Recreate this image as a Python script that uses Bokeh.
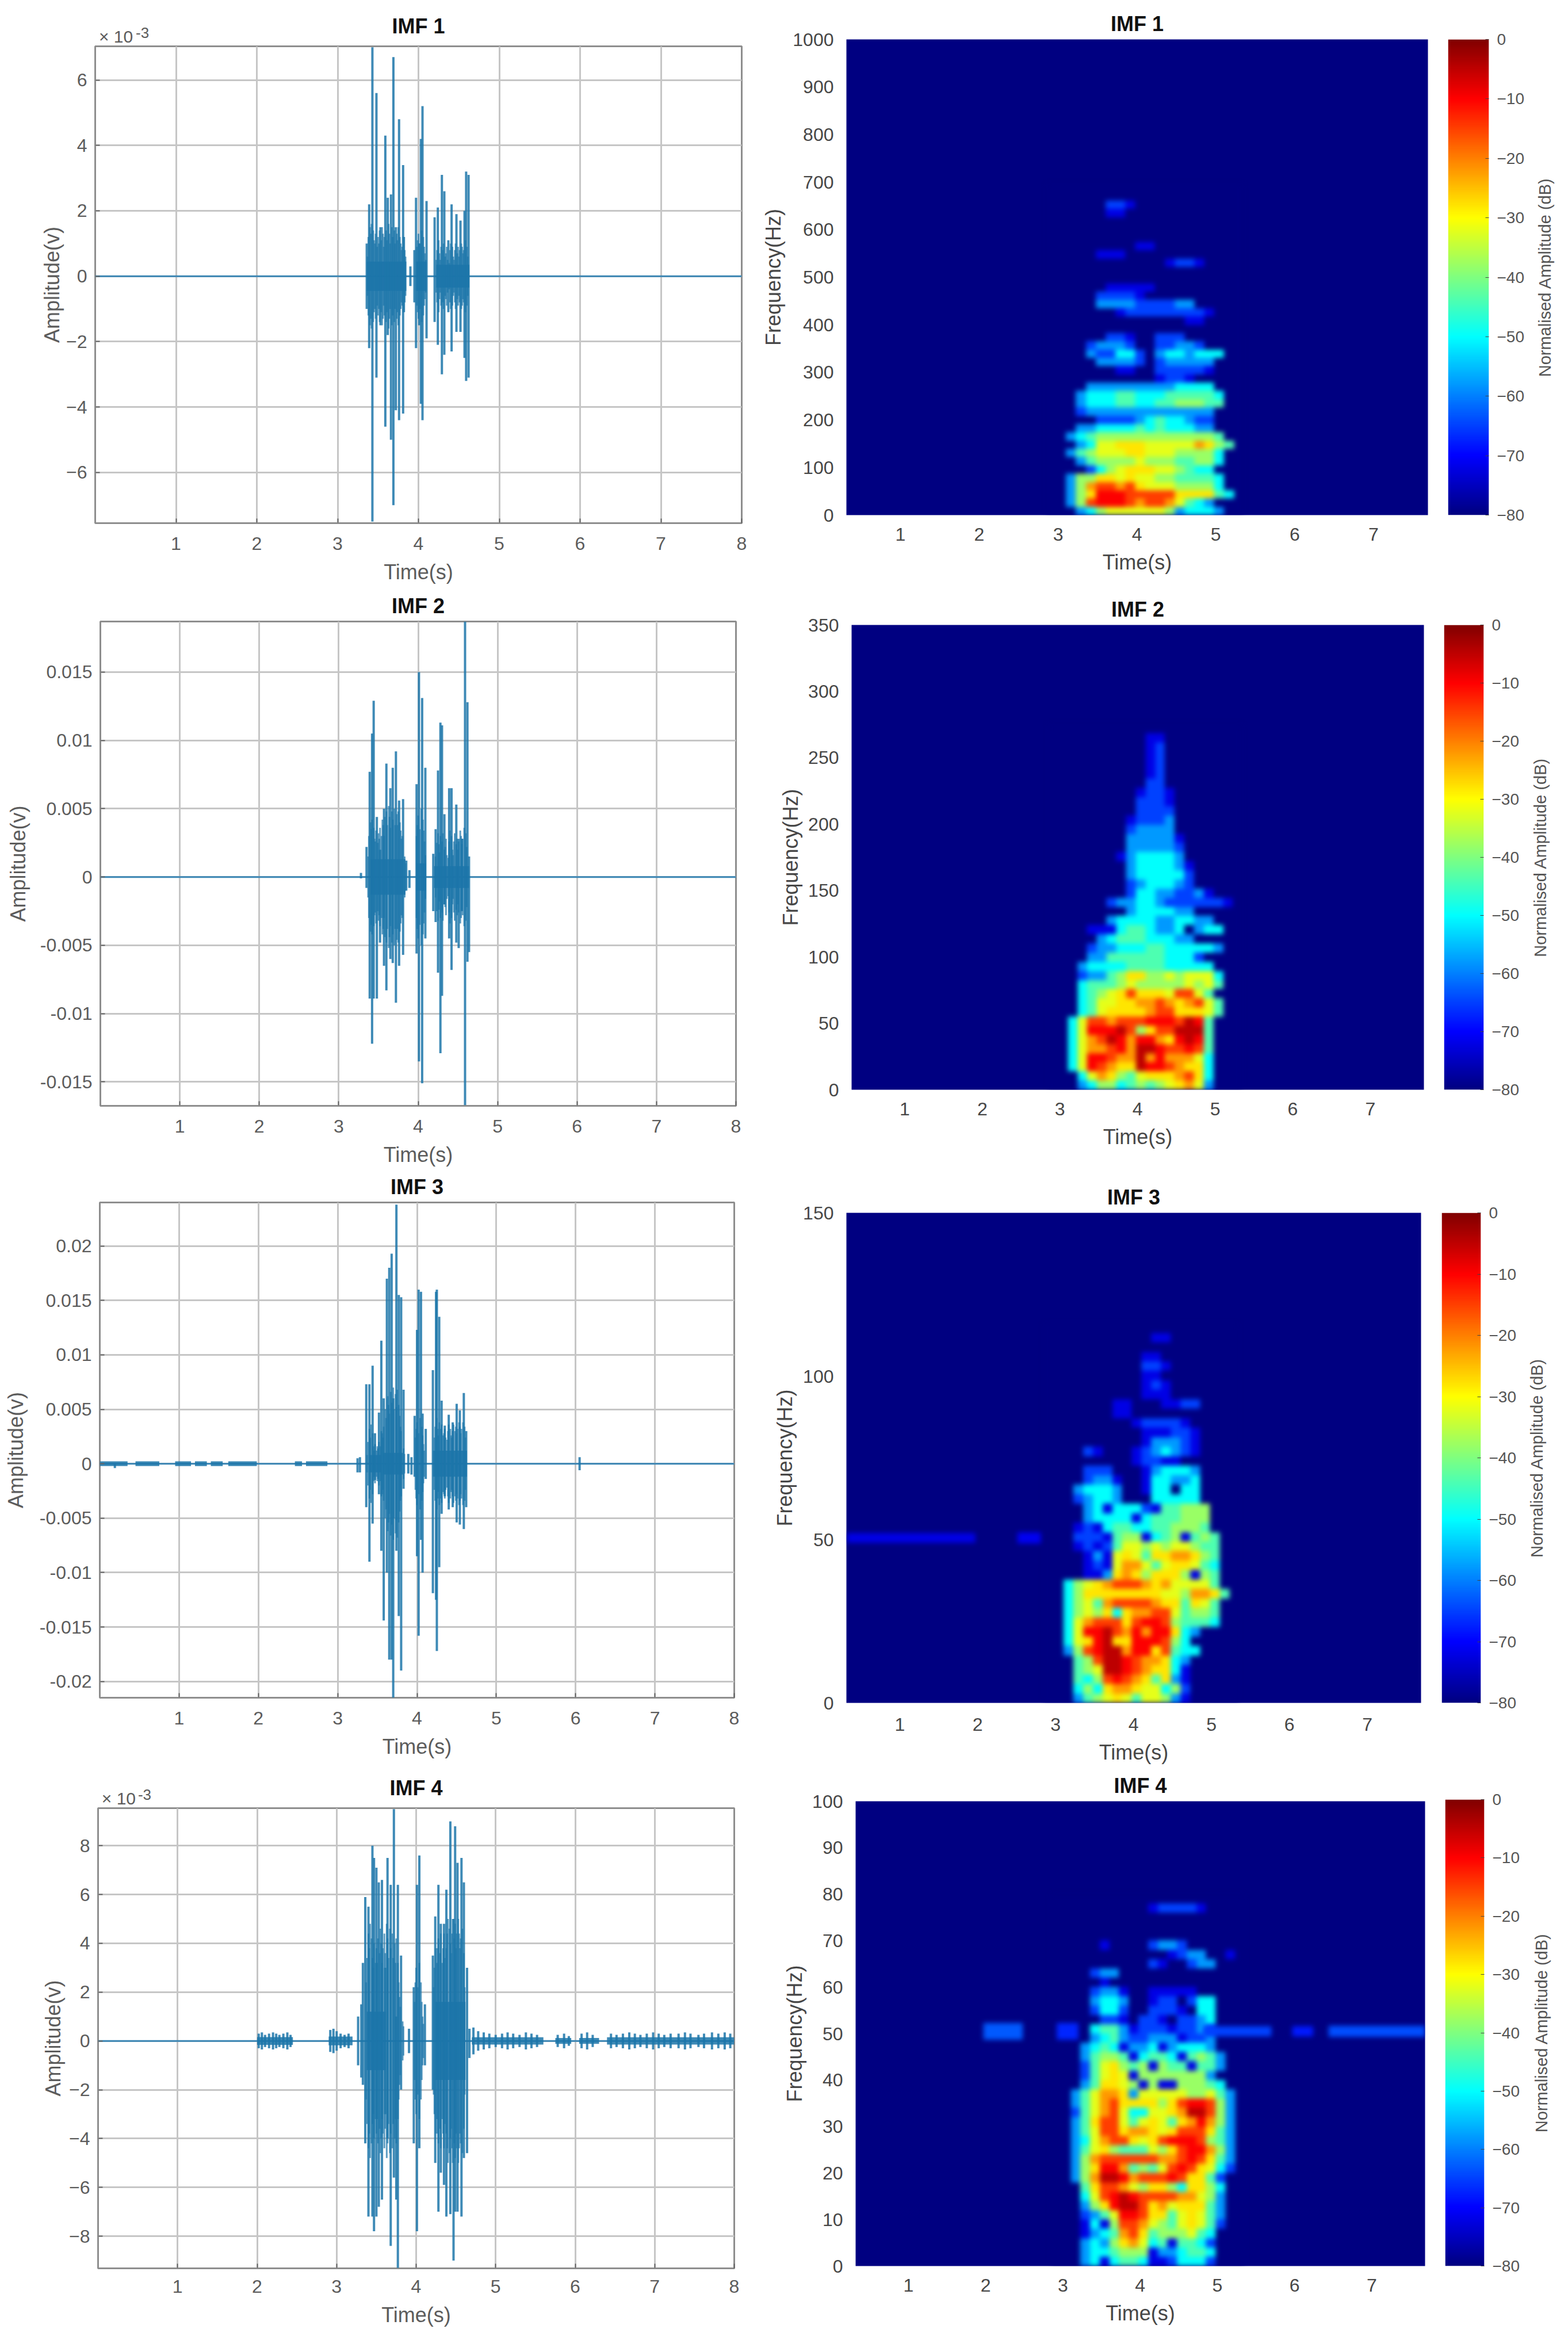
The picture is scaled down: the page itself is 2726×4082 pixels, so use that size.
import numpy as np
from bokeh.embed import file_html
from bokeh.layouts import column, row
from bokeh.models import FixedTicker, LinearAxis, LinearColorMapper, Range1d, Title
from bokeh.plotting import figure
from bokeh.resources import INLINE

# ---------- waveforms: spike time, upper and lower swing (in 1e-3 V) ----------
imf1_t = [3.36,3.39,3.43,3.48,3.53,3.59,3.62,3.66,3.69,3.72,3.76,3.81,3.82,3.90,3.95,3.97,4.01,4.03,4.05,4.10,4.20,4.24,4.29,4.32,4.37,4.41,4.47,4.52,4.57,4.59,4.62]
imf1_hi = [1.0,2.2,7.0,5.6,1.5,4.3,2.4,2.5,6.7,1.5,4.8,3.4,1.2,0.3,0.8,2.4,1.0,4.2,5.2,2.3,1.8,2.1,3.1,2.6,1.1,2.2,1.9,1.7,2.0,3.2,3.1]
imf1_lo = [-1.0,-2.2,-7.5,-3.1,-1.5,-4.6,-1.8,-5.0,-7.0,-4.1,-4.4,-4.2,-1.1,-0.3,-0.8,-2.2,-1.5,-3.9,-4.4,-1.9,-1.4,-2.1,-3.0,-2.4,-1.1,-2.3,-1.7,-1.7,-2.5,-3.2,-3.1]
imf1_band = [(3.36,3.85,0.45),(3.97,4.10,0.45),(4.22,4.63,0.35)]

imf2_t = [3.28,3.35,3.39,3.42,3.44,3.48,3.52,3.57,3.60,3.65,3.68,3.72,3.76,3.81,3.85,3.89,3.98,4.01,4.05,4.09,4.19,4.22,4.25,4.28,4.30,4.33,4.39,4.42,4.48,4.51,4.55,4.59,4.62,4.64]
imf2_hi = [0.3,2.2,7.7,10.5,12.9,4.4,2.0,5.0,8.3,6.5,8.0,9.2,5.6,5.7,1.2,0.5,6.8,15.0,13.1,8.0,1.7,3.5,7.8,11.3,11.1,4.6,6.5,6.5,5.3,2.8,2.8,18.7,12.8,1.5]
imf2_lo = [-0.1,-0.8,-8.9,-12.2,-8.9,-8.9,-4.8,-6.5,-8.3,-6.0,-6.3,-9.2,-6.5,-5.7,-1.0,-0.8,-5.6,-13.5,-15.1,-4.5,-2.5,-3.3,-7.0,-12.9,-8.7,-2.0,-4.5,-6.8,-4.8,-5.2,-2.5,-16.7,-6.2,-5.5]
imf2_band = [(3.40,3.84,1.3),(3.98,4.10,1.0),(4.20,4.64,0.8)]

imf3_t = [0.19,3.25,3.28,3.36,3.40,3.44,3.47,3.52,3.55,3.58,3.62,3.65,3.68,3.70,3.74,3.77,3.80,3.83,3.89,3.93,3.97,4.00,4.02,4.05,4.07,4.11,4.20,4.24,4.25,4.28,4.31,4.35,4.40,4.45,4.50,4.54,4.59,4.62,6.05]
imf3_hi = [0.0,0.5,0.6,7.3,7.3,9.0,2.8,4.7,11.3,6.0,17.0,18.0,19.3,6.0,23.8,15.5,15.3,6.8,0.9,0.6,4.4,12.3,16.0,15.8,4.6,3.2,8.6,15.8,16.0,13.5,5.8,3.5,4.5,3.8,5.5,4.9,6.5,3.0,0.6]
imf3_lo = [-0.4,-0.8,-0.8,-4.0,-9.0,-5.5,-1.5,-2.8,-8.0,-14.4,-10.0,-18.0,-18.0,-21.5,-8.0,-14.0,-19.0,-2.3,-0.9,-1.0,-1.2,-8.5,-15.8,-7.0,-10.0,-1.4,-11.9,-12.5,-17.2,-9.5,-4.6,-3.0,-4.2,-4.0,-5.4,-5.6,-6.0,-4.0,-0.6]
imf3_band = [(0.0,0.35,0.22),(0.45,0.75,0.22),(0.95,1.15,0.22),(1.20,1.35,0.22),(1.40,1.55,0.22),(1.62,1.98,0.22),(2.46,2.55,0.22),(2.60,2.87,0.22),(3.40,3.55,0.8),(3.57,3.82,1.0),(4.20,4.63,1.2)]

imf4_t = [3.27,3.31,3.33,3.36,3.40,3.45,3.47,3.50,3.53,3.57,3.61,3.64,3.68,3.72,3.75,3.77,3.81,3.91,3.97,4.01,4.04,4.11,4.21,4.24,4.28,4.31,4.35,4.38,4.43,4.47,4.49,4.52,4.57,4.60,4.64,4.67]
imf4_hi = [1.0,1.5,3.2,5.9,5.5,8.0,7.5,7.1,6.5,6.6,3.0,7.5,6.4,9.5,1.0,6.4,3.5,0.5,2.2,6.4,7.6,1.5,3.5,5.1,6.4,4.8,4.8,6.2,9.0,5.0,8.8,7.3,7.5,6.5,3.0,0.5]
imf4_lo = [-1.0,-1.5,-1.8,-4.2,-7.2,-7.2,-7.8,-7.2,-6.8,-6.5,-3.0,-4.0,-8.4,-5.6,-6.5,-9.3,-2.0,-0.5,-4.2,-7.8,-4.4,-1.0,-2.0,-5.0,-7.0,-5.4,-5.9,-7.2,-7.1,-9.0,-7.0,-7.0,-7.2,-4.8,-4.6,-0.7]
imf4_band = [(2.0,2.45,0.16),(2.9,3.2,0.18),(3.38,3.62,1.2),(4.24,4.62,1.6),(4.70,5.60,0.15),(5.75,5.95,0.12),(6.05,6.30,0.12),(6.40,8.0,0.15)]
imf4_noise_t = [2.02,2.06,2.10,2.15,2.2,2.24,2.28,2.33,2.38,2.42,2.92,2.96,3.0,3.05,3.1,3.15,4.72,4.78,4.85,4.92,5.0,5.08,5.15,5.22,5.3,5.38,5.45,5.52,5.78,5.86,5.92,6.08,6.15,6.22,6.45,6.52,6.6,6.68,6.75,6.82,6.9,6.98,7.05,7.12,7.2,7.3,7.38,7.45,7.55,7.62,7.72,7.8,7.88,7.95]
imf4_noise_a = [.3,.35,.25,.3,.35,.3,.25,.3,.35,.25,.45,.5,.4,.3,.25,.3,.55,.4,.35,.3,.25,.3,.35,.3,.25,.35,.3,.25,.25,.3,.2,.3,.35,.25,.3,.25,.3,.35,.3,.25,.3,.35,.3,.25,.3,.3,.35,.3,.25,.3,.35,.3,.35,.3]

# dense oscillation inside the bursts: times and per-IMF half swing
burst_t = [3.37,3.38,3.40,3.41,3.42,3.44,3.45,3.46,3.47,3.49,3.50,3.51,3.52,3.54,3.55,3.56,3.57,3.58,3.60,3.61,3.63,3.64,3.65,3.67,3.68,3.70,3.71,3.73,3.74,3.75,3.77,3.78,3.79,3.80,3.83,3.84,3.98,3.99,4.00,4.02,4.04,4.06,4.07,4.08,4.09,4.22,4.23,4.25,4.26,4.27,4.28,4.30,4.31,4.33,4.34,4.35,4.36,4.38,4.39,4.40,4.42,4.43,4.44,4.45,4.46,4.48,4.49,4.50,4.51,4.53,4.54,4.55,4.56,4.58,4.60,4.61]
imf1_burst = [0.6,1.2,1.5,1.3,1.6,1.4,1.1,1.0,1.3,0.9,1.2,1.0,1.4,1.1,1.5,1.3,0.9,1.2,1.4,1.1,1.6,1.3,1.0,1.5,1.2,1.4,1.0,1.3,1.1,1.5,1.2,1.0,0.8,0.9,0.8,0.6,0.9,1.1,1.3,1.0,1.4,1.2,0.9,0.7,0.5,0.5,0.8,1.1,0.7,0.5,0.9,0.8,1.0,0.6,0.7,0.9,0.5,0.4,0.8,1.0,0.9,0.6,0.5,0.8,1.0,0.7,0.9,0.6,0.8,1.0,0.9,0.7,0.8,1.1,0.9,0.6]
imf2_burst = [1.5,3,4,3.5,4.2,3.6,2.8,2.6,3.4,2.5,3.2,2.8,3.6,3.0,4.2,3.8,3.0,4.4,4.8,3.8,5.2,4.4,3.6,4.8,4.2,5.0,3.8,4.6,3.8,4.8,4.0,3.4,2.8,3.0,1.5,1.0,3,3.8,4.5,3.5,5,4.2,3.4,2.6,1.6,1.5,2.5,3.2,2.4,1.8,3,2.6,3.2,2,2.2,2.8,1.6,1.4,2.6,3.4,3,2,1.6,2.6,3.2,2.4,2.8,2,2.6,3.4,3,2.4,2.8,3.6,3.2,2.2]
imf3_burst = [0.8,2,3.2,2.4,3.6,2.8,1.6,1.2,1.8,1.2,1.6,1.4,2,1.6,3,2.8,2.4,3.4,5,4.2,6.2,5.4,4.6,6.6,5.6,7,5,6.4,5.2,6.8,5.4,4.4,3.4,3,1.4,0.9,2.4,3.2,3.8,2.8,4.2,3.4,2.6,1.8,1.2,2.4,3.4,4.2,3.2,2.6,3.8,3.2,3.6,2.6,2.8,3.2,2.4,2.2,3.0,3.6,3.2,2.6,2.4,3.0,3.6,3.0,3.4,2.8,3.2,3.8,3.4,2.8,3.2,3.8,3.4,2.4]
imf4_burst = [2.4,3.4,4.4,3.8,4.8,4.2,3.4,3.0,4,3.2,3.8,3.2,4.2,3.6,4.6,4.0,3.2,3.8,4.4,3.6,4.8,4.2,3.4,4.6,3.8,4.4,3.4,4.0,3.2,4.2,3.2,2.4,1.8,1.4,0.8,0.6,1.6,2.4,3,2.2,3.2,2.4,1.6,1,0.7,2.2,3.0,3.8,3.2,3.8,4.2,3.6,4.4,3.2,3.8,4.4,3.4,3.8,4.4,5,4.6,4,3.6,4.4,5,4.2,4.8,3.8,4.4,5,4.4,3.8,4.2,4.6,3.6,2.2]

# ---------- spectrograms: one character per cell, rows listed from top to bottom ----------
level_db = {"0":-80,"1":-72,"2":-65,"3":-58,"4":-50,"5":-44,"6":-38,"7":-32,"8":-28,"9":-22,"a":-15,"b":-10,"c":-5}
spec_t0, spec_t1 = 2.85, 5.35

spec1_top = 695
spec1_rows = [
"00000000000000000000","00000000000000000000","00000022100000000000","00000011000000000000",
"00000000000000000000","00000000000000000000","00000000000000000000","00000000011000000000",
"00000111000000000000","00000000000012210000","00000000000000000000","00000000000000000000",
"00000011111000000000","00000222210000000000","00000333322223300000","00000001222222221000",
"00000000000000110000","00000000000000000000","00000022100222000000","00002333200223320000",
"00003224420344344400","00000333320233333000","00000001100222221000","00000000000122100000",
"00003333333334444000","00034445544455555400","00034445544556665500","00023333333333333000",
"00000222234544322000","00033444454544433000","00345666666666666500","00034778887777798650",
"00356777887776666400","00035666676665566400","00002467888776544000","00366887877665555400",
"00369aa9a87776666400","00368bbbaaaaa8888540","0036abbba9aa97543000","00034677777763444300",
]
spec2_top = 275
spec2_rows = [
"00000000000000000000","00000000001100000000","00000000001200000000","00000000001200000000",
"00000000001200000000","00000000001200000000","00000000002200000000","00000000012210000000",
"00000000022210000000","00000000022220000000","00000000122230000000","00000000233330000000",
"00000000333331000000","00000000333332000000","00000001344443000000","00000000344443100000",
"00000000344444200000","00000000234443200000","00000000244332231000","00000023344322222210",
"00000000344443300000","00000034444334433000","00001114554334034400","00000345554443300000",
"00002334445544444300","00003355555544420000","00034444555544444000","00023356886676777400",
"00045556766666767500","00045678a8887aa75000","00045778899a989a7500","00045788889aa8887500",
"0047aa9aaabbbacb5000","0047bbbca68aaccc5000","00479acb9bb98bcb5000","004799ab9ccbaaba5000",
"0047bba99c9b99974000","0047ba988cbba9884000","00047986578889a84000","00034664565678973000",
]
spec3_top = 116
spec3_rows = [
"00000000000000000000","00000000000110000000","00000000000000000000","00000000001100000000",
"00000000002210000000","00000000001100000000","00000000001210000000","00000000001110000000",
"00000001100011220000","00000001100000000000","00000000012222100000","00000000001112210000",
"00000000001333210000","00002100012343210000","00000000012211000000","00002220001344430000",
"00002331001443340000","00034443001440440000","00023443000444440000","00003414442155666000",
"00003444414555666000","00012145544556665000","00022215661456156500","00012125776767765500",
"00001317875889986500","00001217997578875400","00001138986888616500","0046789aaa9897777500",
"00468888888877699850","0046759aaaa988587500","00467684899aa7566500","00479aaa8abba6555400",
"0047bbca9b9bb8430000","00478bc88bbba6400000","0036abcc9bb8a5440000","00056accba9984300000",
"000567ccba9884100000","000546aba98583100000","00046489987746200000","00035678757763100000",
]
spec4_top = 80
spec4_rows = [
"00000000000000000000","00000000001222210000","00000000000000000000","00000000000000000000",
"00000000000000000000","00000100002332000000","00000000000012330010","00000000002100233000",
"00002330000000000000","00000100000000000000","00002331001111100000","00003443001220244000",
"00002442002221044000","00000221022102234000","00004553122212232000","00003453223331223000",
"00034541334134443000","00035665145541565300","00025786561655155300","00025787166666663000",
"00035887616116665400","00357998377777667530","003579a888868abba630","002579a7447789cca630",
"00358aa75787589b9630","00357aa899878aaa8530","003479aa878abbba6530","0035786555768abb9630",
"00369aaaaaa99aba8530","00368bb95657aba87420","00369ccb9aaaba885200","00058aa9768864886400",
"00047abcbaaaa9976300","000368bcca8978885300","0002357bba8857875300","0001416aa97657875200",
"00013459a85666754000","00034368974515542000","00034456661334554000","00034145541124442000",
]

# mains-hum streaks at 50 Hz outside the speech burst: start, end, half height, dB
spec3_hum = [(0.32,1.97,1.5,-72),(2.51,2.81,1.7,-71)]
spec4_hum = [(1.97,2.48,1.8,-63),(2.92,3.20,1.8,-67),(4.82,5.70,1.1,-65),(5.97,6.24,1.1,-68),(6.44,7.69,1.2,-64)]

# ---------- tick labels ----------
time_ticks_left = [1,2,3,4,5,6,7,8]
time_ticks_right = [1,2,3,4,5,6,7]
cbar_ticks = [-80,-70,-60,-50,-40,-30,-20,-10,0]


def jet(n=256):
    out = []
    for i in range(n):
        v = (i + 0.5) / n * 4
        r = min(v - 1.5, 4.5 - v)
        g = min(v - 0.5, 3.5 - v)
        b = min(v + 0.5, 2.5 - v)
        c = [int(255 * max(0, min(1, k))) for k in (r, g, b)]
        out.append("#%02x%02x%02x" % tuple(c))
    return out


PALETTE = jet()
NAVY = PALETTE[0]
FONT = "Liberation Sans"
WAVE = "#1c75a9"
mapper = LinearColorMapper(palette=PALETTE, low=-80, high=0)
LEFT_END = 1305
PAGE_RIGHT = 2724


def base_fig(w, h, l, r, t, b, xr, yr):
    p = figure(width=w, height=h, min_border_left=l, min_border_right=r, min_border_top=t,
               min_border_bottom=b, x_range=Range1d(*xr), y_range=Range1d(*yr),
               toolbar_location=None, output_backend="svg", tools="")
    p.border_fill_color = "white"
    p.frame_align = False
    return p


def style_axis(ax, size, color):
    ax.major_label_text_font = FONT
    ax.major_label_text_font_size = size
    ax.major_label_text_color = color
    ax.axis_label_text_font = FONT
    ax.axis_label_text_font_size = "36px"
    ax.axis_label_text_font_style = "normal"
    ax.axis_label_text_color = color
    ax.axis_line_color = None
    ax.minor_tick_line_color = None


def add_title(p, text, standoff=13):
    p.add_layout(Title(text=text, align="center", text_font=FONT, text_font_size="36px",
                       text_font_style="bold", text_color="#111111", standoff=standoff), "above")


def multiplier_axis(p, x, text, size, standoff):
    ax = LinearAxis(ticker=FixedTicker(ticks=[x]), major_label_overrides={x: text})
    style_axis(ax, size, "#5c5c5c")
    ax.major_tick_line_color = None
    ax.major_tick_in = 0
    ax.major_tick_out = 0
    ax.major_label_standoff = standoff
    p.add_layout(ax, "above")


def wave_panel(slot, frame, yr, yticks, labels, t, hi, lo, bands, burst, title, sl, xs, mult=None, noise=None):
    top, bot = slot
    x0, y0, x1, y1 = frame
    p = base_fig(LEFT_END, bot - top, x0, LEFT_END - x1, y0 - top, bot - y1, (0, 8), yr)
    xax, yax = p.below[0], p.left[0]
    if mult:
        multiplier_axis(p, mult[0], "\u00d7 10", "30px", 1)
        multiplier_axis(p, mult[1], "-3", "26px", -22)
        add_title(p, title, -44)
    else:
        add_title(p, title)
    p.outline_line_color = "#8e8e8e"
    p.outline_line_width = 3
    for ax in (xax, yax):
        style_axis(ax, "32px", "#5c5c5c")
        ax.major_tick_in = 8
        ax.major_tick_out = 0
        ax.major_tick_line_color = "#666666"
        ax.major_tick_line_width = 2
        ax.major_label_standoff = 14
    xax.major_label_standoff = xs
    xax.ticker = FixedTicker(ticks=time_ticks_left)
    yax.ticker = FixedTicker(ticks=yticks)
    yax.major_label_overrides = labels
    xax.axis_label = "Time(s)"
    yax.axis_label = "Amplitude(v)"
    yax.axis_label_standoff = sl
    xax.axis_label_standoff = 15
    for g in (p.xgrid[0], p.ygrid[0]):
        g.grid_line_color = "#c6c6c6"
        g.grid_line_width = 3
    p.xgrid[0].ticker = FixedTicker(ticks=time_ticks_left)
    p.ygrid[0].ticker = FixedTicker(ticks=yticks)
    p.line([0, 8], [0, 0], line_color="#3b86b4", line_width=3)
    p.quad(left=[b[0] for b in bands], right=[b[1] for b in bands],
           top=[b[2] for b in bands], bottom=[-b[2] for b in bands],
           fill_color=WAVE, fill_alpha=0.85, line_color=None)
    p.segment(burst_t, burst, burst_t, [-a for a in burst], line_color=WAVE, line_width=3, line_alpha=0.7)
    if noise:
        p.segment(noise[0], noise[1], noise[0], [-a for a in noise[1]], line_color=WAVE, line_width=4, line_alpha=0.85)
    p.segment(t, hi, t, lo, line_color=WAVE, line_width=4, line_alpha=0.85)
    return p


def spec_panel(slot, frame, split, top_hz, yticks, rows, hum, title, sl, xs):
    top, bot = slot
    x0, y0, x1, y1 = frame
    p = base_fig(split - LEFT_END, bot - top, x0 - LEFT_END, split - x1, y0 - top, bot - y1, (0.315, 7.69), (0, yticks[-1]))
    add_title(p, title)
    p.background_fill_color = NAVY
    p.outline_line_color = None
    p.grid.visible = False
    for ax in (p.xaxis[0], p.yaxis[0]):
        style_axis(ax, "32px", "#474747")
        ax.major_tick_line_color = None
        ax.major_label_standoff = 16
    p.xaxis[0].major_label_standoff = xs
    p.xaxis[0].ticker = FixedTicker(ticks=time_ticks_right)
    p.yaxis[0].ticker = FixedTicker(ticks=yticks)
    p.xaxis[0].axis_label = "Time(s)"
    p.yaxis[0].axis_label = "Frequency(Hz)"
    p.yaxis[0].axis_label_standoff = sl
    p.xaxis[0].axis_label_standoff = 14
    mat = np.array([[level_db[c] for c in r] for r in rows[::-1]], dtype=float)
    p.image(image=[mat], x=spec_t0, y=0, dw=spec_t1 - spec_t0, dh=top_hz, color_mapper=mapper)
    for t0, t1, half, db in (hum or []):
        p.image(image=[np.array([[db]], dtype=float)], x=t0, y=50.5 - half, dw=t1 - t0, dh=2 * half, color_mapper=mapper)
    return p


def cbar_panel(slot, frame, split, bar, cb_end):
    top, bot = slot
    _, y0, _, y1 = frame
    b0, b1 = bar
    p = base_fig(cb_end - split, bot - top, b0 - split, cb_end - b1, y0 - top, bot - y1, (0, 1), (-80, 0))
    p.outline_line_color = None
    p.grid.visible = False
    p.xaxis.visible = False
    p.yaxis.visible = False
    ax = LinearAxis(ticker=FixedTicker(ticks=cbar_ticks))
    style_axis(ax, "28px", "#555555")
    ax.major_tick_in = 6
    ax.major_tick_out = 0
    ax.major_tick_line_color = "#444444"
    ax.major_label_standoff = 14
    p.add_layout(ax, "right")
    ramp = np.array(cbar_ticks[0] + (np.arange(256) + 0.5) * 80 / 256).reshape(256, 1)
    p.image(image=[ramp], x=0, y=-80, dw=1, dh=80, color_mapper=mapper)
    return p


def cbar_title_panel(slot, frame, cb_end, center_x):
    top, bot = slot
    _, y0, _, y1 = frame
    edge = center_x + 17
    p = base_fig(PAGE_RIGHT - cb_end, bot - top, edge - cb_end, 0, y0 - top, bot - y1, (0, 1), (-80, 0))
    p.outline_line_color = None
    p.grid.visible = False
    p.xaxis.visible = False
    ax = p.yaxis[0]
    style_axis(ax, "1px", "#555555")
    ax.ticker = FixedTicker(ticks=[])
    ax.major_tick_line_color = None
    ax.major_label_standoff = 0
    ax.axis_label = "Normalised Amplitude (dB)"
    ax.axis_label_text_font_size = "29px"
    ax.axis_label_standoff = 0
    return p


slots = [(0, 1022), (1022, 2034), (2034, 3075), (3075, 4080)]

L1 = wave_panel(slots[0], (165, 80, 1289, 909), (-7.55, 7.03), [-6,-4,-2,0,2,4,6],
                {}, imf1_t, imf1_hi, imf1_lo, imf1_band, imf1_burst, "IMF 1", 1, 24, mult=(0.257, 0.584))
L2 = wave_panel(slots[1], (174, 1080, 1279, 1922), (-16.75, 18.7), [-15,-10,-5,0,5,10,15],
                {-15:"-0.015",-10:"-0.01",-5:"-0.005",0:"0",5:"0.005",10:"0.01",15:"0.015"},
                imf2_t, imf2_hi, imf2_lo, imf2_band, imf2_burst, "IMF 2", 15, 24)
L3 = wave_panel(slots[2], (173, 2088, 1276, 2951), (-21.5, 24.0), [-20,-15,-10,-5,0,5,10,15,20],
                {-20:"-0.02",-15:"-0.015",-10:"-0.01",-5:"-0.005",0:"0",5:"0.005",10:"0.01",15:"0.015",20:"0.02"},
                imf3_t, imf3_hi, imf3_lo, imf3_band, imf3_burst, "IMF 3", 18, 24)
L4 = wave_panel(slots[3], (170, 3143, 1276, 3943), (-9.32, 9.54), [-8,-6,-4,-2,0,2,4,6,8],
                {}, imf4_t, imf4_hi, imf4_lo, imf4_band, imf4_burst, "IMF 4", 4, 20, mult=(0.26, 0.586),
                noise=(imf4_noise_t, imf4_noise_a))

R = [
    ((1471, 68, 2482, 895), 2500, spec1_top, list(range(0, 1001, 100)), spec1_rows, None, "IMF 1", 10, 16, (2517, 2588), 2654, 2684),
    ((1480, 1086, 2475, 1894), 2492, spec2_top, list(range(0, 351, 50)), spec2_rows, None, "IMF 2", 7, 16, (2510, 2579), 2646, 2676),
    ((1471, 2108, 2470, 2960), 2488, spec3_top, [0, 50, 100, 150], spec3_rows, spec3_hum, "IMF 3", 8, 20, (2506, 2574), 2640, 2670),
    ((1487, 3128, 2477, 3939), 2494, spec4_top, list(range(0, 101, 10)), spec4_rows, spec4_hum, "IMF 4", 7, 16, (2512, 2580), 2648, 2678),
]

rows_out = []
for slot, left, cfg in zip(slots, [L1, L2, L3, L4], R):
    frame, split, top_hz, ticks, mat_rows, hum, title, sl, xs, bar, cb_end, lab = cfg
    sp = spec_panel(slot, frame, split, top_hz, ticks, mat_rows, hum, title, sl, xs)
    cb = cbar_panel(slot, frame, split, bar, cb_end)
    lb = cbar_title_panel(slot, frame, cb_end, lab)
    rows_out.append(row(left, sp, cb, lb, spacing=0))

page = column(*rows_out, spacing=0)

SOFTEN = """
<script>
(function(){
  function walk(root){
    root.querySelectorAll('*').forEach(function(e){
      if(e.tagName.toLowerCase()==='image'){
        var w=parseFloat(e.getAttribute('width')), h=parseFloat(e.getAttribute('height'));
        if(!(w<100 && h>300)){ e.style.imageRendering='auto'; e.style.filter='blur(4px)'; }
      }
      if(e.shadowRoot){ walk(e.shadowRoot); }
    });
  }
  var n=0, t=setInterval(function(){ walk(document); if(++n>40){clearInterval(t);} }, 150);
})();
</script>
"""
html = file_html(page, INLINE)
open("out.html", "w").write(html.replace("</body>", SOFTEN + "</body>"))
